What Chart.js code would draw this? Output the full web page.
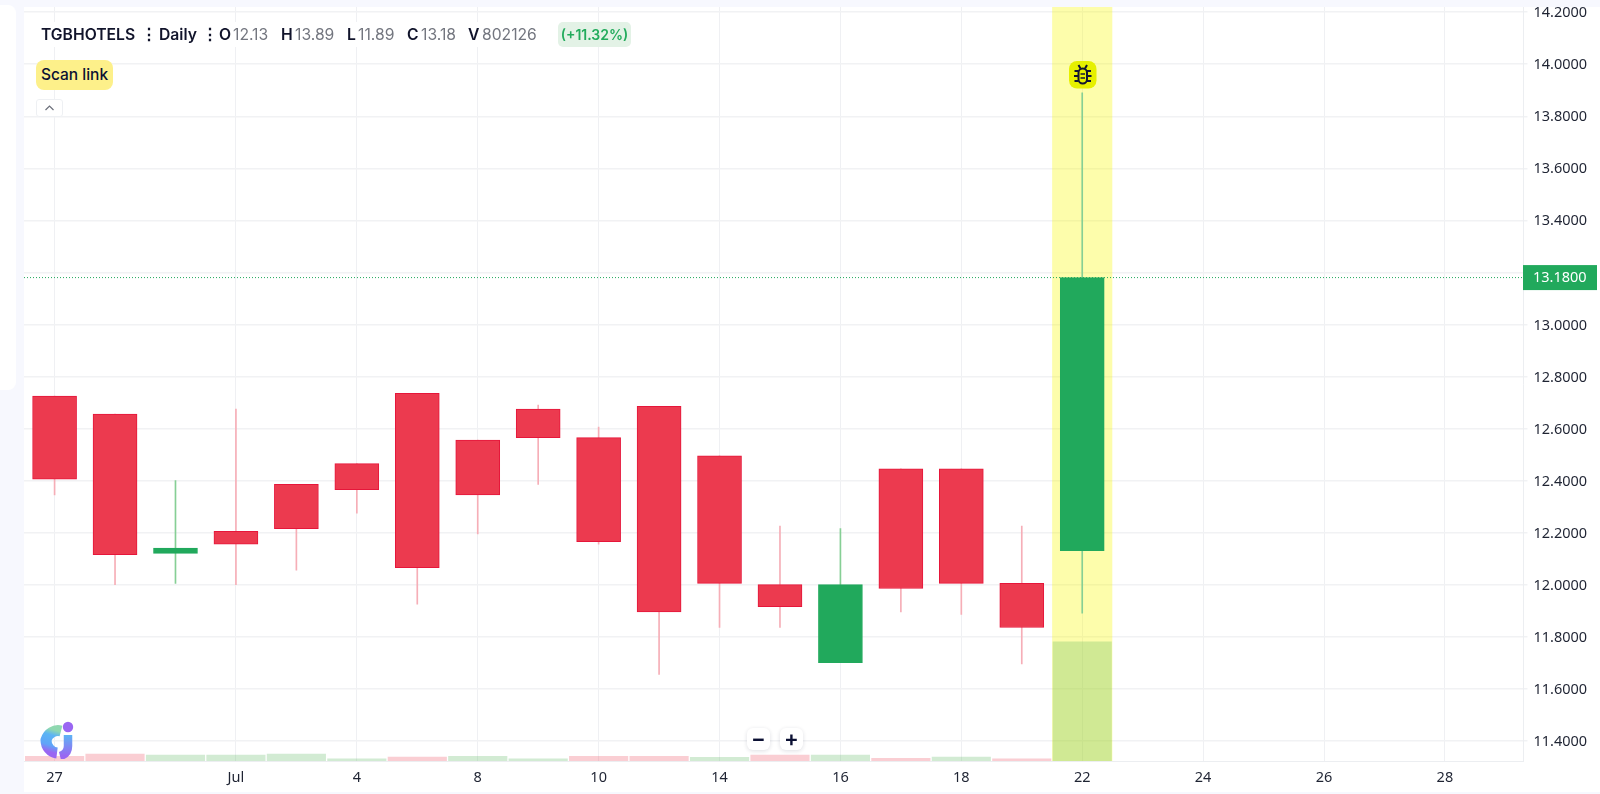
<!DOCTYPE html>
<html>
<head>
<meta charset="utf-8">
<title>TGBHOTELS Daily</title>
<script src="https://cdn.jsdelivr.net/npm/chart.js@4/dist/chart.umd.min.js"></script>
<style>
  html, body { margin: 0; padding: 0; background: #f7f8fe; overflow: hidden; }
  body { width: 1600px; height: 794px; position: relative; font-family: Inter, "Noto Sans", sans-serif; }
  .abs { position: absolute; }
  #sidePanel { left: 0; top: 5px; width: 16px; height: 385px; background: #fff; border-radius: 0 8px 8px 0; }
  #mainPanel { left: 24px; top: 7px; width: 1576px; height: 785px; background: #fff; }
  #chartCanvas { position: absolute; left: 0; top: 0; }
  #headerMask { left: 36px; top: 22px; width: 522px; height: 25px; background: #fff; }
  .hd { position: absolute; top: 25px; font-size: 15.7px; line-height: 19px; white-space: nowrap; }
  .hd.k { font-weight: 600; color: #11142b; }
  .hd.v { font-weight: 400; color: #73767f; }
  #changeBadge { left: 558px; top: 22px; width: 73px; height: 25px; line-height: 25px; background: #e3f2e6; color: #22ab5c;
    font-size: 14px; font-weight: 600; text-align: center; border-radius: 5px; }
  #scanLink { left: 36px; top: 60px; width: 77px; height: 30px; line-height: 30px; background: #fdf08a; color: #0b1033;
    font-size: 15.5px; font-weight: 500; text-align: center; border-radius: 8px; }
  #collapseBtn { left: 36px; top: 99px; width: 27px; height: 18px; background: #fff; border: 1px solid #eef0f3;
    border-radius: 3px; box-sizing: border-box; }
  .zoomBtn { top: 728px; width: 23px; height: 22px; line-height: 21px; background: #fff; border-radius: 6px; color: #0b1033;
    font-size: 22px; font-weight: 600; text-align: center; box-shadow: 0 1px 4px rgba(20, 30, 60, 0.14); }
</style>
</head>
<body>
<div class="abs" id="sidePanel"></div>
<div class="abs" id="mainPanel"></div>
<canvas id="chartCanvas" width="1600" height="794"></canvas>

<div class="abs" id="headerMask"></div>
<span class="hd k" style="left:41px">TGBHOTELS</span>
<span class="hd k" style="left:141px">⋮</span>
<span class="hd k" style="left:159px">Daily</span>
<span class="hd k" style="left:202px">⋮</span>
<span class="hd k" style="left:219px">O</span><span class="hd v" style="left:233px">12.13</span>
<span class="hd k" style="left:281px">H</span><span class="hd v" style="left:295px">13.89</span>
<span class="hd k" style="left:347px">L</span><span class="hd v" style="left:358px">11.89</span>
<span class="hd k" style="left:407px">C</span><span class="hd v" style="left:421px">13.18</span>
<span class="hd k" style="left:468px">V</span><span class="hd v" style="left:482px">802126</span>
<div class="abs" id="changeBadge">(+11.32%)</div>
<div class="abs" id="scanLink">Scan link</div>
<div class="abs" id="collapseBtn">
  <svg width="25" height="16" style="display:block"><path d="M8.5 10 L12.5 6 L16.5 10" fill="none" stroke="#6b6f7a" stroke-width="1.2"/></svg>
</div>

<!-- bug marker -->
<svg class="abs" style="left:1069px;top:61px" width="28" height="28" viewBox="0 0 28 28">
  <rect width="27.5" height="27.5" rx="8" fill="#e6f000"/>
  <g fill="none" stroke="#101433" stroke-width="2">
    <rect x="9.5" y="7.5" width="8.5" height="15" rx="4.2"/>
    <path d="M9.5 4 L11.5 7.5 M18 4 L16 7.5 M5.5 10 H9.5 M18 10 H22 M5 15 H9.5 M18 15 H22.5 M5.5 20 H9.5 M18 20 H22"/>
    <path d="M11.5 13 H16 M11.5 17 H16" stroke-width="1.5"/>
  </g>
</svg>

<!-- logo -->
<svg class="abs" style="left:40px;top:721px" width="36" height="38" viewBox="0 0 36 38">
  <defs>
    <linearGradient id="logoC" x1="0.7" y1="0" x2="0.5" y2="1">
      <stop offset="0" stop-color="#8fd8b0"/>
      <stop offset="0.25" stop-color="#5cb4f4"/>
      <stop offset="0.7" stop-color="#60a5f8"/>
      <stop offset="1" stop-color="#9a66f2"/>
    </linearGradient>
    <linearGradient id="logoI" x1="0.5" y1="0" x2="0.5" y2="1">
      <stop offset="0" stop-color="#5cb4f4"/>
      <stop offset="1" stop-color="#9a66f2"/>
    </linearGradient>
  </defs>
  <path d="M21 10 A12.5 13 0 0 0 6 19 A12.5 13 0 0 0 17 32" fill="none" stroke="url(#logoC)" stroke-width="11" stroke-linecap="butt"/>
  <circle cx="28" cy="6" r="5.2" fill="#9a66f2"/>
  <path d="M28 14 V25 Q28 33 20 35" fill="none" stroke="url(#logoI)" stroke-width="8.5"/>
</svg>

<div class="abs zoomBtn" style="left:747px">−</div>
<div class="abs zoomBtn" style="left:780px">+</div>

<script>
// Candles
const dayIndex = [0, 1, 2, 3, 4, 5, 6, 7, 8, 9, 10, 11, 12, 13, 14, 15, 16, 17];
const opens = [12.725, 12.655, 12.12, 12.205, 12.385, 12.465, 12.735, 12.555, 12.675, 12.565, 12.685, 12.495, 12.00, 11.70, 12.445, 12.445, 12.005, 12.13];
const closes = [12.405, 12.115, 12.14, 12.155, 12.215, 12.365, 12.065, 12.345, 12.565, 12.165, 11.895, 12.005, 11.915, 12.00, 11.985, 12.005, 11.835, 13.18];
const highs = [12.725, 12.655, 12.40, 12.675, 12.385, 12.465, 12.735, 12.555, 12.69, 12.605, 12.685, 12.495, 12.225, 12.215, 12.445, 12.445, 12.225, 13.89];
const lows = [12.345, 12.00, 12.005, 12.00, 12.055, 12.275, 11.925, 12.195, 12.385, 12.155, 11.655, 11.835, 11.835, 11.70, 11.895, 11.885, 11.695, 11.89];
const volumes = [32000, 47000, 40000, 40000, 47000, 15000, 27000, 32000, 15000, 32000, 32000, 25000, 40000, 40000, 18000, 27000, 15000, 802126];
// volume bars do not follow the candle colour in the picture
const volumeUp = [false, false, true, true, true, true, false, true, true, false, false, true, false, true, false, true, false, true];

// Axis ticks
const xTickIndex = [0, 3, 5, 7, 9, 11, 13, 15, 17, 19, 21, 23];
const xTickLabels = ["27", "Jul", "4", "8", "10", "14", "16", "18", "22", "24", "26", "28"];
const yTicks = [11.4, 11.6, 11.8, 12.0, 12.2, 12.4, 12.6, 12.8, 13.0, 13.2, 13.4, 13.6, 13.8, 14.0, 14.2];

const lastClose = 13.18;
const highlightIndex = 17;

const xMin = -0.506;
const xMax = 24.3;
const yMin = 11.322;
const yMax = 14.22;

const upColor = "#21a95c";
const downColor = "#ec3a4f";
const isUp = (i) => closes[i] >= opens[i];

// last price tag on the right axis
const lastPriceTag = {
  id: "lastPriceTag",
  afterDraw(chart) {
    const ctx = chart.ctx;
    const y = chart.scales.y.getPixelForValue(lastClose);
    ctx.save();
    ctx.fillStyle = upColor;
    ctx.fillRect(1523, y - 12.5, 74, 25);
    ctx.fillStyle = "#ffffff";
    ctx.font = '14.5px "Noto Sans"';
    ctx.textBaseline = "middle";
    ctx.textAlign = "left";
    ctx.fillText(lastClose.toFixed(4), 1533, y);
    ctx.restore();
  },
};

const ctx = document.getElementById("chartCanvas").getContext("2d");
new Chart(ctx, {
  type: "bar",
  data: {
    datasets: [
      {
        label: "Highlight",
        data: [{ x: highlightIndex, y: [yMin, yMax] }],
        backgroundColor: "rgba(250, 250, 0, 0.33)",
        barThickness: 59.5,
        order: 6,
      },
      {
        label: "Volume",
        data: dayIndex.map((d, i) => ({ x: d, y: volumes[i] })),
        yAxisID: "vol",
        backgroundColor: volumeUp.map((up) =>
          up ? "rgba(76, 175, 80, 0.25)" : "rgba(236, 58, 79, 0.25)"
        ),
        barThickness: 58.5,
        order: 5,
      },
      {
        label: "Wick",
        data: dayIndex.map((d, i) => ({ x: d, y: [lows[i], highs[i]] })),
        backgroundColor: dayIndex.map((d, i) => (isUp(i) ? "#86cf95" : "#f6aeb7")),
        barThickness: 1,
        order: 3,
      },
      {
        label: "Body",
        data: dayIndex.map((d, i) => ({ x: d, y: [opens[i], closes[i]] })),
        backgroundColor: dayIndex.map((d, i) => (isUp(i) ? upColor : downColor)),
        borderColor: dayIndex.map((d, i) => (isUp(i) ? upColor : "#e6163a")),
        borderWidth: 1,
        borderSkipped: false,
        barThickness: 44,
        order: 2,
      },
      {
        type: "line",
        label: "Last price",
        data: [
          { x: xMin, y: lastClose },
          { x: xMax, y: lastClose },
        ],
        borderColor: upColor,
        borderWidth: 1,
        borderDash: [1, 2],
        pointRadius: 0,
        order: 1,
      },
    ],
  },
  options: {
    responsive: false,
    animation: false,
    events: [],
    layout: { padding: { left: 24, top: 7, right: 0, bottom: 0 } },
    plugins: { legend: { display: false }, tooltip: { enabled: false } },
    datasets: { bar: { grouped: false } },
    scales: {
      x: {
        type: "linear",
        offset: false,
        min: xMin,
        max: xMax,
        afterBuildTicks(axis) {
          axis.ticks = xTickIndex.map((v) => ({ value: v }));
        },
        afterFit(axis) {
          axis.height = 33;
          axis.paddingLeft = 0;
          axis.paddingRight = 0;
        },
        grid: { offset: false, color: "#eff0f3", lineWidth: 1, drawTicks: false },
        border: { color: "#eceef1", width: 1 },
        ticks: {
          autoSkip: false,
          maxRotation: 0,
          padding: 8,
          color: "#1f2433",
          font: { family: '"Noto Sans"', size: 14.5 },
          callback: (value) => xTickLabels[xTickIndex.indexOf(value)],
        },
      },
      y: {
        position: "right",
        min: yMin,
        max: yMax,
        afterBuildTicks(axis) {
          axis.ticks = yTicks.map((v) => ({ value: v }));
        },
        afterFit(axis) {
          axis.width = 76.5;
          axis.paddingTop = 0;
          axis.paddingBottom = 0;
        },
        grid: { color: "#f1f2f4", lineWidth: 1.5, tickLength: 4 },
        border: { color: "#eceef1", width: 1 },
        ticks: {
          autoSkip: false,
          padding: 6,
          labelOffset: 1,
          color: "#1f2433",
          font: { family: '"Noto Sans"', size: 14.5 },
          callback: (value) => value.toFixed(4),
        },
      },
      vol: {
        display: false,
        min: 0,
        max: 5070000,
      },
    },
  },
  plugins: [lastPriceTag],
});
</script>
</body>
</html>
